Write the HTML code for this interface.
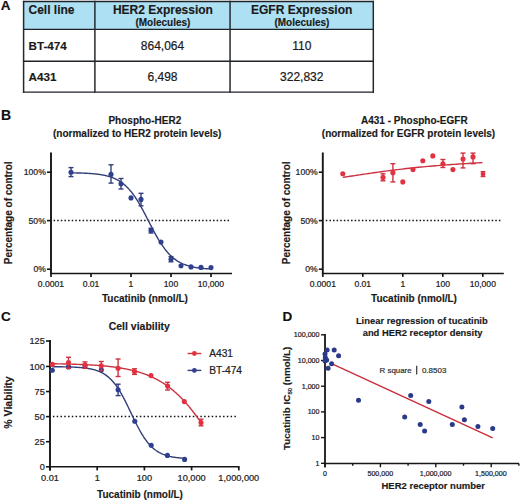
<!DOCTYPE html>
<html><head><meta charset="utf-8"><style>
html,body{margin:0;padding:0;background:#fff;}
body{width:520px;height:501px;overflow:hidden;}
svg{display:block;font-family:"Liberation Sans",sans-serif;}
</style></head><body>
<svg width="520" height="501" viewBox="0 0 520 501">
<rect width="520" height="501" fill="#fff"/>
<text x="0.8" y="10.4" font-size="13.5" font-weight="bold" text-anchor="start" fill="#111" stroke="#111" stroke-width="0.15" >A</text>
<rect x="23.6" y="1.5" width="349.7" height="27.9" fill="#aee0f4"/>
<line x1="22.9" y1="1.5" x2="374" y2="1.5" stroke="#1e2328" stroke-width="1.4" />
<line x1="22.9" y1="29.4" x2="374" y2="29.4" stroke="#1e2328" stroke-width="1.4" />
<line x1="22.9" y1="61.25" x2="374" y2="61.25" stroke="#1e2328" stroke-width="1.4" />
<line x1="22.9" y1="92.1" x2="374" y2="92.1" stroke="#1e2328" stroke-width="1.4" />
<line x1="23.6" y1="0.8" x2="23.6" y2="92.8" stroke="#26292c" stroke-width="1.5" />
<line x1="94.9" y1="0.8" x2="94.9" y2="92.8" stroke="#26292c" stroke-width="1.5" />
<line x1="230.05" y1="0.8" x2="230.05" y2="92.8" stroke="#26292c" stroke-width="1.5" />
<line x1="373.3" y1="0.8" x2="373.3" y2="92.8" stroke="#26292c" stroke-width="1.5" />
<text x="28.5" y="13.6" font-size="12" font-weight="bold" text-anchor="start" fill="#1a1a1a" stroke="#1a1a1a" stroke-width="0.15" >Cell line</text>
<text x="162.9" y="13.6" font-size="12" font-weight="bold" text-anchor="middle" fill="#1a1a1a" stroke="#1a1a1a" stroke-width="0.15" >HER2 Expression</text>
<text x="162.9" y="25.8" font-size="10" font-weight="bold" text-anchor="middle" fill="#1a1a1a" stroke="#1a1a1a" stroke-width="0.15" >(Molecules)</text>
<text x="301.7" y="13.6" font-size="12" font-weight="bold" text-anchor="middle" fill="#1a1a1a" stroke="#1a1a1a" stroke-width="0.15" >EGFR Expression</text>
<text x="301.9" y="25.8" font-size="10" font-weight="bold" text-anchor="middle" fill="#1a1a1a" stroke="#1a1a1a" stroke-width="0.15" >(Molecules)</text>
<text x="28.5" y="50" font-size="11.7" font-weight="bold" text-anchor="start" fill="#1a1a1a" stroke="#1a1a1a" stroke-width="0.15" >BT-474</text>
<text x="28.5" y="81" font-size="11.7" font-weight="bold" text-anchor="start" fill="#1a1a1a" stroke="#1a1a1a" stroke-width="0.15" >A431</text>
<text x="162.5" y="50" font-size="12" font-weight="normal" text-anchor="middle" fill="#1a1a1a" stroke="#1a1a1a" stroke-width="0.22" >864,064</text>
<text x="162.5" y="81" font-size="12" font-weight="normal" text-anchor="middle" fill="#1a1a1a" stroke="#1a1a1a" stroke-width="0.22" >6,498</text>
<text x="301.8" y="50" font-size="12" font-weight="normal" text-anchor="middle" fill="#1a1a1a" stroke="#1a1a1a" stroke-width="0.22" >110</text>
<text x="301.8" y="81" font-size="12" font-weight="normal" text-anchor="middle" fill="#1a1a1a" stroke="#1a1a1a" stroke-width="0.22" >322,832</text>
<text x="1.0" y="119.6" font-size="14" font-weight="bold" text-anchor="start" fill="#111" stroke="#111" stroke-width="0.15" >B</text>
<line x1="51" y1="152.5" x2="51" y2="274.09999999999997" stroke="#161616" stroke-width="1.9" />
<line x1="50.1" y1="273.4" x2="232" y2="273.4" stroke="#161616" stroke-width="1.5" />
<line x1="47" y1="172.2" x2="51" y2="172.2" stroke="#161616" stroke-width="1.6" />
<text x="45.8" y="175.29999999999998" font-size="8.6" font-weight="normal" text-anchor="end" fill="#222" stroke="#222" stroke-width="0.22" >100%</text>
<line x1="47" y1="220.6" x2="51" y2="220.6" stroke="#161616" stroke-width="1.6" />
<text x="45.8" y="223.7" font-size="8.6" font-weight="normal" text-anchor="end" fill="#222" stroke="#222" stroke-width="0.22" >50%</text>
<line x1="47" y1="269.2" x2="51" y2="269.2" stroke="#161616" stroke-width="1.6" />
<text x="45.8" y="272.3" font-size="8.6" font-weight="normal" text-anchor="end" fill="#222" stroke="#222" stroke-width="0.22" >0%</text>
<line x1="51" y1="273.4" x2="51" y2="276.9" stroke="#161616" stroke-width="1.7" />
<text x="51" y="287.3" font-size="8.6" font-weight="normal" text-anchor="middle" fill="#222" stroke="#222" stroke-width="0.22" >0.0001</text>
<line x1="91" y1="273.4" x2="91" y2="276.9" stroke="#161616" stroke-width="1.7" />
<text x="91" y="287.3" font-size="8.6" font-weight="normal" text-anchor="middle" fill="#222" stroke="#222" stroke-width="0.22" >0.01</text>
<line x1="131" y1="273.4" x2="131" y2="276.9" stroke="#161616" stroke-width="1.7" />
<text x="131" y="287.3" font-size="8.6" font-weight="normal" text-anchor="middle" fill="#222" stroke="#222" stroke-width="0.22" >1</text>
<line x1="171" y1="273.4" x2="171" y2="276.9" stroke="#161616" stroke-width="1.7" />
<text x="171" y="287.3" font-size="8.6" font-weight="normal" text-anchor="middle" fill="#222" stroke="#222" stroke-width="0.22" >100</text>
<line x1="211" y1="273.4" x2="211" y2="276.9" stroke="#161616" stroke-width="1.7" />
<text x="211" y="287.3" font-size="8.6" font-weight="normal" text-anchor="middle" fill="#222" stroke="#222" stroke-width="0.22" >10,000</text>
<line x1="53.6" y1="220.6" x2="229" y2="220.6" stroke="#111" stroke-width="1.5" stroke-dasharray="1.5 2.123"/>
<text x="12.1" y="212.75" font-size="10" font-weight="bold" text-anchor="middle" fill="#1a1a1a" stroke="#1a1a1a" stroke-width="0.15" transform="rotate(-90 12.1 212.75)">Percentage of control</text>
<text x="144.9" y="301.8" font-size="10" font-weight="bold" text-anchor="middle" fill="#1a1a1a" stroke="#1a1a1a" stroke-width="0.15" >Tucatinib (nmol/L)</text>
<text x="144.85" y="123.8" font-size="10" font-weight="bold" text-anchor="middle" fill="#1a1a1a" stroke="#1a1a1a" stroke-width="0.15" >Phospho-HER2</text>
<text x="137.2" y="137.2" font-size="10" font-weight="bold" text-anchor="middle" fill="#1a1a1a" stroke="#1a1a1a" stroke-width="0.15" >(normalized to HER2 protein levels)</text>
<line x1="322.8" y1="152.5" x2="322.8" y2="274.09999999999997" stroke="#161616" stroke-width="1.9" />
<line x1="321.90000000000003" y1="273.4" x2="503.8" y2="273.4" stroke="#161616" stroke-width="1.5" />
<line x1="318.8" y1="172.2" x2="322.8" y2="172.2" stroke="#161616" stroke-width="1.6" />
<text x="317.6" y="175.29999999999998" font-size="8.6" font-weight="normal" text-anchor="end" fill="#222" stroke="#222" stroke-width="0.22" >100%</text>
<line x1="318.8" y1="220.6" x2="322.8" y2="220.6" stroke="#161616" stroke-width="1.6" />
<text x="317.6" y="223.7" font-size="8.6" font-weight="normal" text-anchor="end" fill="#222" stroke="#222" stroke-width="0.22" >50%</text>
<line x1="318.8" y1="269.2" x2="322.8" y2="269.2" stroke="#161616" stroke-width="1.6" />
<text x="317.6" y="272.3" font-size="8.6" font-weight="normal" text-anchor="end" fill="#222" stroke="#222" stroke-width="0.22" >0%</text>
<line x1="322.8" y1="273.4" x2="322.8" y2="276.9" stroke="#161616" stroke-width="1.7" />
<text x="322.8" y="287.3" font-size="8.6" font-weight="normal" text-anchor="middle" fill="#222" stroke="#222" stroke-width="0.22" >0.0001</text>
<line x1="362.8" y1="273.4" x2="362.8" y2="276.9" stroke="#161616" stroke-width="1.7" />
<text x="362.8" y="287.3" font-size="8.6" font-weight="normal" text-anchor="middle" fill="#222" stroke="#222" stroke-width="0.22" >0.01</text>
<line x1="402.8" y1="273.4" x2="402.8" y2="276.9" stroke="#161616" stroke-width="1.7" />
<text x="402.8" y="287.3" font-size="8.6" font-weight="normal" text-anchor="middle" fill="#222" stroke="#222" stroke-width="0.22" >1</text>
<line x1="442.8" y1="273.4" x2="442.8" y2="276.9" stroke="#161616" stroke-width="1.7" />
<text x="442.8" y="287.3" font-size="8.6" font-weight="normal" text-anchor="middle" fill="#222" stroke="#222" stroke-width="0.22" >100</text>
<line x1="482.8" y1="273.4" x2="482.8" y2="276.9" stroke="#161616" stroke-width="1.7" />
<text x="482.8" y="287.3" font-size="8.6" font-weight="normal" text-anchor="middle" fill="#222" stroke="#222" stroke-width="0.22" >10,000</text>
<line x1="325.8" y1="220.6" x2="500.5" y2="220.6" stroke="#111" stroke-width="1.5" stroke-dasharray="1.5 2.106"/>
<text x="290.2" y="212.75" font-size="10" font-weight="bold" text-anchor="middle" fill="#1a1a1a" stroke="#1a1a1a" stroke-width="0.15" transform="rotate(-90 290.2 212.75)">Percentage of control</text>
<text x="414" y="301.8" font-size="10" font-weight="bold" text-anchor="middle" fill="#1a1a1a" stroke="#1a1a1a" stroke-width="0.15" >Tucatinib (nmol/L)</text>
<text x="414.3" y="123.8" font-size="10" font-weight="bold" text-anchor="middle" fill="#1a1a1a" stroke="#1a1a1a" stroke-width="0.15" >A431 - Phospho-EGFR</text>
<text x="408.5" y="137.2" font-size="10" font-weight="bold" text-anchor="middle" fill="#1a1a1a" stroke="#1a1a1a" stroke-width="0.15" >(normalized for EGFR protein levels)</text>
<path d="M71.00,172.82 L71.70,172.83 L72.41,172.85 L73.11,172.86 L73.81,172.87 L74.52,172.88 L75.22,172.90 L75.92,172.91 L76.63,172.93 L77.33,172.95 L78.04,172.96 L78.74,172.98 L79.44,173.00 L80.15,173.03 L80.85,173.05 L81.55,173.07 L82.26,173.10 L82.96,173.12 L83.66,173.15 L84.37,173.18 L85.07,173.21 L85.77,173.25 L86.48,173.28 L87.18,173.32 L87.88,173.36 L88.59,173.40 L89.29,173.44 L89.99,173.49 L90.70,173.54 L91.40,173.59 L92.11,173.65 L92.81,173.71 L93.51,173.77 L94.22,173.83 L94.92,173.90 L95.62,173.98 L96.33,174.05 L97.03,174.13 L97.73,174.22 L98.44,174.31 L99.14,174.41 L99.84,174.51 L100.55,174.61 L101.25,174.73 L101.95,174.85 L102.66,174.97 L103.36,175.10 L104.07,175.24 L104.77,175.39 L105.47,175.55 L106.18,175.71 L106.88,175.89 L107.58,176.07 L108.29,176.26 L108.99,176.46 L109.69,176.68 L110.40,176.90 L111.10,177.14 L111.80,177.39 L112.51,177.65 L113.21,177.93 L113.91,178.22 L114.62,178.53 L115.32,178.85 L116.03,179.19 L116.73,179.54 L117.43,179.91 L118.14,180.31 L118.84,180.72 L119.54,181.15 L120.25,181.60 L120.95,182.07 L121.65,182.56 L122.36,183.08 L123.06,183.62 L123.76,184.18 L124.47,184.77 L125.17,185.39 L125.87,186.03 L126.58,186.70 L127.28,187.39 L127.98,188.11 L128.69,188.87 L129.39,189.65 L130.10,190.46 L130.80,191.30 L131.50,192.17 L132.21,193.06 L132.91,193.99 L133.61,194.95 L134.32,195.94 L135.02,196.96 L135.72,198.01 L136.43,199.08 L137.13,200.19 L137.83,201.32 L138.54,202.48 L139.24,203.66 L139.94,204.87 L140.65,206.10 L141.35,207.36 L142.06,208.63 L142.76,209.92 L143.46,211.23 L144.17,212.56 L144.87,213.90 L145.57,215.24 L146.28,216.60 L146.98,217.97 L147.68,219.34 L148.39,220.71 L149.09,222.09 L149.79,223.46 L150.50,224.83 L151.20,226.19 L151.90,227.55 L152.61,228.90 L153.31,230.23 L154.02,231.55 L154.72,232.85 L155.42,234.14 L156.13,235.40 L156.83,236.65 L157.53,237.87 L158.24,239.07 L158.94,240.24 L159.64,241.39 L160.35,242.51 L161.05,243.60 L161.75,244.67 L162.46,245.71 L163.16,246.71 L163.86,247.69 L164.57,248.64 L165.27,249.56 L165.97,250.44 L166.68,251.30 L167.38,252.13 L168.09,252.93 L168.79,253.70 L169.49,254.44 L170.20,255.15 L170.90,255.83 L171.60,256.49 L172.31,257.12 L173.01,257.73 L173.71,258.30 L174.42,258.86 L175.12,259.39 L175.82,259.90 L176.53,260.38 L177.23,260.85 L177.93,261.29 L178.64,261.71 L179.34,262.11 L180.05,262.50 L180.75,262.86 L181.45,263.21 L182.16,263.54 L182.86,263.86 L183.56,264.16 L184.27,264.44 L184.97,264.71 L185.67,264.97 L186.38,265.22 L187.08,265.45 L187.78,265.67 L188.49,265.88 L189.19,266.08 L189.89,266.27 L190.60,266.45 L191.30,266.62 L192.01,266.78 L192.71,266.93 L193.41,267.07 L194.12,267.21 L194.82,267.34 L195.52,267.46 L196.23,267.58 L196.93,267.69 L197.63,267.80 L198.34,267.89 L199.04,267.99 L199.74,268.08 L200.45,268.16 L201.15,268.24 L201.85,268.32 L202.56,268.39 L203.26,268.45 L203.96,268.52 L204.67,268.58 L205.37,268.64 L206.08,268.69 L206.78,268.74 L207.48,268.79 L208.19,268.83 L208.89,268.88 L209.59,268.92 L210.30,268.96 L211.00,268.99" fill="none" stroke="#333f7a" stroke-width="1.4" stroke-linejoin="round"/>
<line x1="71" y1="167.6" x2="71" y2="176.6" stroke="#333f7a" stroke-width="1.4" />
<line x1="68.5" y1="167.6" x2="73.5" y2="167.6" stroke="#333f7a" stroke-width="1.4" />
<line x1="68.5" y1="176.6" x2="73.5" y2="176.6" stroke="#333f7a" stroke-width="1.4" />
<circle cx="71" cy="172.3" r="2.55" fill="#2f408e"/>
<line x1="111" y1="164.8" x2="111" y2="183.1" stroke="#333f7a" stroke-width="1.4" />
<line x1="108.5" y1="164.8" x2="113.5" y2="164.8" stroke="#333f7a" stroke-width="1.4" />
<line x1="108.5" y1="183.1" x2="113.5" y2="183.1" stroke="#333f7a" stroke-width="1.4" />
<circle cx="111" cy="174.4" r="2.55" fill="#2f408e"/>
<line x1="121.0" y1="178.5" x2="121.0" y2="189" stroke="#333f7a" stroke-width="1.4" />
<line x1="118.5" y1="178.5" x2="123.5" y2="178.5" stroke="#333f7a" stroke-width="1.4" />
<line x1="118.5" y1="189" x2="123.5" y2="189" stroke="#333f7a" stroke-width="1.4" />
<circle cx="121.0" cy="183.7" r="2.55" fill="#2f408e"/>
<circle cx="131" cy="197.9" r="2.55" fill="#2f408e"/>
<line x1="141.0" y1="193.3" x2="141.0" y2="205.8" stroke="#333f7a" stroke-width="1.4" />
<line x1="138.5" y1="193.3" x2="143.5" y2="193.3" stroke="#333f7a" stroke-width="1.4" />
<line x1="138.5" y1="205.8" x2="143.5" y2="205.8" stroke="#333f7a" stroke-width="1.4" />
<circle cx="141.0" cy="199.4" r="2.55" fill="#2f408e"/>
<line x1="151" y1="228.3" x2="151" y2="233" stroke="#333f7a" stroke-width="1.4" />
<line x1="148.5" y1="228.3" x2="153.5" y2="228.3" stroke="#333f7a" stroke-width="1.4" />
<line x1="148.5" y1="233" x2="153.5" y2="233" stroke="#333f7a" stroke-width="1.4" />
<circle cx="151" cy="230.4" r="2.55" fill="#2f408e"/>
<circle cx="161.0" cy="242.1" r="2.55" fill="#2f408e"/>
<line x1="171" y1="256.6" x2="171" y2="261.8" stroke="#333f7a" stroke-width="1.4" />
<line x1="168.5" y1="256.6" x2="173.5" y2="256.6" stroke="#333f7a" stroke-width="1.4" />
<line x1="168.5" y1="261.8" x2="173.5" y2="261.8" stroke="#333f7a" stroke-width="1.4" />
<circle cx="171" cy="259.2" r="2.55" fill="#2f408e"/>
<circle cx="181.0" cy="265.8" r="2.55" fill="#2f408e"/>
<circle cx="191" cy="266.9" r="2.55" fill="#2f408e"/>
<circle cx="201.0" cy="267.4" r="2.55" fill="#2f408e"/>
<circle cx="211" cy="267.6" r="2.55" fill="#2f408e"/>
<path d="M342.80,177.40 L345.17,177.04 L347.54,176.68 L349.90,176.31 L352.27,175.95 L354.64,175.59 L357.01,175.24 L359.37,174.88 L361.74,174.53 L364.11,174.17 L366.48,173.83 L368.85,173.48 L371.21,173.14 L373.58,172.80 L375.95,172.46 L378.32,172.13 L380.68,171.81 L383.05,171.48 L385.42,171.17 L387.79,170.85 L390.16,170.55 L392.52,170.24 L394.89,169.95 L397.26,169.66 L399.63,169.37 L401.99,169.09 L404.36,168.81 L406.73,168.55 L409.10,168.28 L411.47,168.03 L413.83,167.78 L416.20,167.53 L418.57,167.29 L420.94,167.06 L423.31,166.83 L425.67,166.61 L428.04,166.39 L430.41,166.18 L432.78,165.98 L435.14,165.78 L437.51,165.59 L439.88,165.40 L442.25,165.21 L444.62,165.03 L446.98,164.86 L449.35,164.69 L451.72,164.52 L454.09,164.36 L456.45,164.20 L458.82,164.04 L461.19,163.89 L463.56,163.74 L465.93,163.59 L468.29,163.45 L470.66,163.30 L473.03,163.16 L475.40,163.02 L477.76,162.88 L480.13,162.74 L482.50,162.60" fill="none" stroke="#cc3340" stroke-width="1.4" stroke-linejoin="round"/>
<circle cx="342.8" cy="173.8" r="2.55" fill="#e2313f"/>
<line x1="383" y1="173.8" x2="383" y2="180.8" stroke="#cc3340" stroke-width="1.4" />
<line x1="380.5" y1="173.8" x2="385.5" y2="173.8" stroke="#cc3340" stroke-width="1.4" />
<line x1="380.5" y1="180.8" x2="385.5" y2="180.8" stroke="#cc3340" stroke-width="1.4" />
<circle cx="383" cy="177.4" r="2.55" fill="#e2313f"/>
<line x1="392.9" y1="163.7" x2="392.9" y2="181.9" stroke="#cc3340" stroke-width="1.4" />
<line x1="390.4" y1="163.7" x2="395.4" y2="163.7" stroke="#cc3340" stroke-width="1.4" />
<line x1="390.4" y1="181.9" x2="395.4" y2="181.9" stroke="#cc3340" stroke-width="1.4" />
<circle cx="392.9" cy="172.8" r="2.55" fill="#e2313f"/>
<circle cx="402.8" cy="181.9" r="2.55" fill="#e2313f"/>
<circle cx="413" cy="169.6" r="2.55" fill="#e2313f"/>
<circle cx="422.8" cy="160.7" r="2.55" fill="#e2313f"/>
<circle cx="432.8" cy="155.9" r="2.55" fill="#e2313f"/>
<line x1="442.9" y1="159.5" x2="442.9" y2="167.5" stroke="#cc3340" stroke-width="1.4" />
<line x1="440.4" y1="159.5" x2="445.4" y2="159.5" stroke="#cc3340" stroke-width="1.4" />
<line x1="440.4" y1="167.5" x2="445.4" y2="167.5" stroke="#cc3340" stroke-width="1.4" />
<circle cx="442.9" cy="163.7" r="2.55" fill="#e2313f"/>
<circle cx="452.9" cy="169.6" r="2.55" fill="#e2313f"/>
<line x1="463" y1="153.1" x2="463" y2="167.9" stroke="#cc3340" stroke-width="1.4" />
<line x1="460.5" y1="153.1" x2="465.5" y2="153.1" stroke="#cc3340" stroke-width="1.4" />
<line x1="460.5" y1="167.9" x2="465.5" y2="167.9" stroke="#cc3340" stroke-width="1.4" />
<circle cx="463" cy="159" r="2.55" fill="#e2313f"/>
<line x1="473" y1="153.1" x2="473" y2="163.7" stroke="#cc3340" stroke-width="1.4" />
<line x1="470.5" y1="153.1" x2="475.5" y2="153.1" stroke="#cc3340" stroke-width="1.4" />
<line x1="470.5" y1="163.7" x2="475.5" y2="163.7" stroke="#cc3340" stroke-width="1.4" />
<circle cx="473" cy="156.9" r="2.55" fill="#e2313f"/>
<line x1="483" y1="171.7" x2="483" y2="176.5" stroke="#cc3340" stroke-width="1.4" />
<line x1="480.6" y1="171.7" x2="485.4" y2="171.7" stroke="#cc3340" stroke-width="1.4" />
<line x1="480.6" y1="176.5" x2="485.4" y2="176.5" stroke="#cc3340" stroke-width="1.4" />
<circle cx="483" cy="174.1" r="2.4" fill="#e2313f"/>
<text x="0.9" y="320.7" font-size="13.5" font-weight="bold" text-anchor="start" fill="#111" stroke="#111" stroke-width="0.15" >C</text>
<text x="139.3" y="330.0" font-size="10.5" font-weight="bold" text-anchor="middle" fill="#1a1a1a" stroke="#1a1a1a" stroke-width="0.15" >Cell viability</text>
<line x1="50" y1="340" x2="50" y2="470.40000000000003" stroke="#161616" stroke-width="1.9" />
<line x1="49.1" y1="466.8" x2="239.6" y2="466.8" stroke="#161616" stroke-width="1.6" />
<line x1="46" y1="466.8" x2="50" y2="466.8" stroke="#161616" stroke-width="1.6" />
<text x="44.8" y="470.1" font-size="9.2" font-weight="normal" text-anchor="end" fill="#222" stroke="#222" stroke-width="0.22" >0</text>
<line x1="46" y1="441.71250000000003" x2="50" y2="441.71250000000003" stroke="#161616" stroke-width="1.6" />
<text x="44.8" y="445.01250000000005" font-size="9.2" font-weight="normal" text-anchor="end" fill="#222" stroke="#222" stroke-width="0.22" >25</text>
<line x1="46" y1="416.625" x2="50" y2="416.625" stroke="#161616" stroke-width="1.6" />
<text x="44.8" y="419.925" font-size="9.2" font-weight="normal" text-anchor="end" fill="#222" stroke="#222" stroke-width="0.22" >50</text>
<line x1="46" y1="391.5375" x2="50" y2="391.5375" stroke="#161616" stroke-width="1.6" />
<text x="44.8" y="394.83750000000003" font-size="9.2" font-weight="normal" text-anchor="end" fill="#222" stroke="#222" stroke-width="0.22" >75</text>
<line x1="46" y1="366.45" x2="50" y2="366.45" stroke="#161616" stroke-width="1.6" />
<text x="44.8" y="369.75" font-size="9.2" font-weight="normal" text-anchor="end" fill="#222" stroke="#222" stroke-width="0.22" >100</text>
<line x1="46" y1="341" x2="50" y2="341" stroke="#161616" stroke-width="1.6" />
<text x="44.8" y="344.3" font-size="9.2" font-weight="normal" text-anchor="end" fill="#222" stroke="#222" stroke-width="0.22" >125</text>
<line x1="50.0" y1="466.8" x2="50.0" y2="470.40000000000003" stroke="#161616" stroke-width="1.7" />
<text x="50.0" y="481.3" font-size="9.2" font-weight="normal" text-anchor="middle" fill="#222" stroke="#222" stroke-width="0.22" >0.01</text>
<line x1="97.2" y1="466.8" x2="97.2" y2="470.40000000000003" stroke="#161616" stroke-width="1.7" />
<text x="97.2" y="481.3" font-size="9.2" font-weight="normal" text-anchor="middle" fill="#222" stroke="#222" stroke-width="0.22" >1</text>
<line x1="144.4" y1="466.8" x2="144.4" y2="470.40000000000003" stroke="#161616" stroke-width="1.7" />
<text x="144.4" y="481.3" font-size="9.2" font-weight="normal" text-anchor="middle" fill="#222" stroke="#222" stroke-width="0.22" >100</text>
<line x1="191.60000000000002" y1="466.8" x2="191.60000000000002" y2="470.40000000000003" stroke="#161616" stroke-width="1.7" />
<text x="191.60000000000002" y="481.3" font-size="9.2" font-weight="normal" text-anchor="middle" fill="#222" stroke="#222" stroke-width="0.22" >10,000</text>
<line x1="238.8" y1="466.8" x2="238.8" y2="470.40000000000003" stroke="#161616" stroke-width="1.7" />
<text x="238.8" y="481.3" font-size="9.2" font-weight="normal" text-anchor="middle" fill="#222" stroke="#222" stroke-width="0.22" >1,000,000</text>
<line x1="52.9" y1="416.5" x2="236" y2="416.5" stroke="#111" stroke-width="1.5" stroke-dasharray="1.5 2.281"/>
<text x="11.5" y="402.5" font-size="10.5" font-weight="bold" text-anchor="middle" fill="#1a1a1a" stroke="#1a1a1a" stroke-width="0.15" transform="rotate(-90 11.5 402.5)">% Viability</text>
<text x="140" y="497.9" font-size="10" font-weight="bold" text-anchor="middle" fill="#1a1a1a" stroke="#1a1a1a" stroke-width="0.15" >Tucatinib (nmol/L)</text>
<path d="M52.30,363.75 L53.05,363.76 L53.79,363.77 L54.54,363.79 L55.29,363.80 L56.04,363.81 L56.78,363.82 L57.53,363.84 L58.28,363.85 L59.03,363.86 L59.77,363.88 L60.52,363.89 L61.27,363.91 L62.01,363.92 L62.76,363.94 L63.51,363.95 L64.26,363.97 L65.00,363.99 L65.75,364.00 L66.50,364.02 L67.24,364.04 L67.99,364.06 L68.74,364.08 L69.49,364.10 L70.23,364.12 L70.98,364.14 L71.73,364.16 L72.48,364.18 L73.22,364.21 L73.97,364.23 L74.72,364.25 L75.46,364.28 L76.21,364.30 L76.96,364.33 L77.71,364.36 L78.45,364.38 L79.20,364.41 L79.95,364.44 L80.69,364.47 L81.44,364.50 L82.19,364.53 L82.94,364.56 L83.68,364.60 L84.43,364.63 L85.18,364.67 L85.93,364.70 L86.67,364.74 L87.42,364.78 L88.17,364.81 L88.91,364.85 L89.66,364.89 L90.41,364.94 L91.16,364.98 L91.90,365.02 L92.65,365.07 L93.40,365.12 L94.15,365.16 L94.89,365.21 L95.64,365.26 L96.39,365.31 L97.13,365.37 L97.88,365.42 L98.63,365.48 L99.38,365.54 L100.12,365.60 L100.87,365.66 L101.62,365.72 L102.36,365.78 L103.11,365.85 L103.86,365.92 L104.61,365.98 L105.35,366.06 L106.10,366.13 L106.85,366.20 L107.60,366.28 L108.34,366.36 L109.09,366.44 L109.84,366.52 L110.58,366.61 L111.33,366.70 L112.08,366.78 L112.83,366.88 L113.57,366.97 L114.32,367.07 L115.07,367.17 L115.82,367.27 L116.56,367.38 L117.31,367.48 L118.06,367.59 L118.80,367.71 L119.55,367.82 L120.30,367.94 L121.05,368.06 L121.79,368.19 L122.54,368.32 L123.29,368.45 L124.03,368.59 L124.78,368.73 L125.53,368.87 L126.28,369.01 L127.02,369.16 L127.77,369.32 L128.52,369.48 L129.27,369.64 L130.01,369.80 L130.76,369.97 L131.51,370.15 L132.25,370.33 L133.00,370.51 L133.75,370.70 L134.50,370.89 L135.24,371.09 L135.99,371.29 L136.74,371.50 L137.48,371.71 L138.23,371.93 L138.98,372.15 L139.73,372.38 L140.47,372.62 L141.22,372.86 L141.97,373.10 L142.72,373.36 L143.46,373.61 L144.21,373.88 L144.96,374.15 L145.70,374.43 L146.45,374.71 L147.20,375.00 L147.95,375.30 L148.69,375.61 L149.44,375.92 L150.19,376.24 L150.94,376.57 L151.68,376.90 L152.43,377.24 L153.18,377.60 L153.92,377.95 L154.67,378.32 L155.42,378.70 L156.17,379.08 L156.91,379.47 L157.66,379.88 L158.41,380.29 L159.15,380.71 L159.90,381.14 L160.65,381.58 L161.40,382.02 L162.14,382.48 L162.89,382.95 L163.64,383.43 L164.39,383.92 L165.13,384.42 L165.88,384.93 L166.63,385.45 L167.37,385.98 L168.12,386.52 L168.87,387.07 L169.62,387.64 L170.36,388.21 L171.11,388.80 L171.86,389.40 L172.61,390.01 L173.35,390.63 L174.10,391.27 L174.85,391.92 L175.59,392.57 L176.34,393.25 L177.09,393.93 L177.84,394.63 L178.58,395.34 L179.33,396.06 L180.08,396.79 L180.82,397.54 L181.57,398.30 L182.32,399.07 L183.07,399.86 L183.81,400.66 L184.56,401.47 L185.31,402.30 L186.06,403.14 L186.80,403.99 L187.55,404.86 L188.30,405.73 L189.04,406.63 L189.79,407.53 L190.54,408.45 L191.29,409.38 L192.03,410.32 L192.78,411.28 L193.53,412.25 L194.27,413.23 L195.02,414.22 L195.77,415.23 L196.52,416.25 L197.26,417.28 L198.01,418.32 L198.76,419.38 L199.51,420.44 L200.25,421.52 L201.00,422.61" fill="none" stroke="#cc3340" stroke-width="1.4" stroke-linejoin="round"/>
<path d="M52.30,366.71 L52.96,366.72 L53.63,366.72 L54.29,366.73 L54.96,366.73 L55.62,366.74 L56.29,366.74 L56.95,366.75 L57.62,366.75 L58.28,366.76 L58.95,366.77 L59.61,366.78 L60.28,366.79 L60.94,366.80 L61.61,366.80 L62.27,366.82 L62.94,366.83 L63.60,366.84 L64.27,366.85 L64.93,366.86 L65.60,366.88 L66.26,366.89 L66.93,366.91 L67.59,366.92 L68.26,366.94 L68.92,366.96 L69.59,366.98 L70.25,367.00 L70.92,367.02 L71.58,367.05 L72.24,367.07 L72.91,367.10 L73.57,367.13 L74.24,367.16 L74.90,367.19 L75.57,367.23 L76.23,367.26 L76.90,367.30 L77.56,367.34 L78.23,367.39 L78.89,367.43 L79.56,367.48 L80.22,367.53 L80.89,367.59 L81.55,367.65 L82.22,367.71 L82.88,367.77 L83.55,367.84 L84.21,367.92 L84.88,368.00 L85.54,368.08 L86.21,368.17 L86.87,368.26 L87.54,368.36 L88.20,368.47 L88.87,368.58 L89.53,368.70 L90.19,368.82 L90.86,368.96 L91.52,369.10 L92.19,369.25 L92.85,369.41 L93.52,369.57 L94.18,369.75 L94.85,369.94 L95.51,370.14 L96.18,370.35 L96.84,370.57 L97.51,370.81 L98.17,371.05 L98.84,371.32 L99.50,371.59 L100.17,371.88 L100.83,372.19 L101.50,372.52 L102.16,372.86 L102.83,373.22 L103.49,373.60 L104.16,374.00 L104.82,374.43 L105.49,374.87 L106.15,375.34 L106.82,375.83 L107.48,376.34 L108.15,376.88 L108.81,377.45 L109.47,378.04 L110.14,378.66 L110.80,379.31 L111.47,379.98 L112.13,380.69 L112.80,381.43 L113.46,382.20 L114.13,383.00 L114.79,383.83 L115.46,384.70 L116.12,385.60 L116.79,386.53 L117.45,387.49 L118.12,388.49 L118.78,389.52 L119.45,390.58 L120.11,391.67 L120.78,392.79 L121.44,393.94 L122.11,395.12 L122.77,396.33 L123.44,397.57 L124.10,398.83 L124.77,400.11 L125.43,401.42 L126.10,402.74 L126.76,404.09 L127.43,405.44 L128.09,406.82 L128.75,408.20 L129.42,409.59 L130.08,410.99 L130.75,412.39 L131.41,413.79 L132.08,415.19 L132.74,416.58 L133.41,417.97 L134.07,419.35 L134.74,420.71 L135.40,422.07 L136.07,423.40 L136.73,424.72 L137.40,426.02 L138.06,427.29 L138.73,428.54 L139.39,429.77 L140.06,430.97 L140.72,432.14 L141.39,433.28 L142.05,434.39 L142.72,435.47 L143.38,436.52 L144.05,437.53 L144.71,438.51 L145.38,439.47 L146.04,440.38 L146.71,441.27 L147.37,442.12 L148.03,442.94 L148.70,443.73 L149.36,444.49 L150.03,445.21 L150.69,445.91 L151.36,446.58 L152.02,447.21 L152.69,447.82 L153.35,448.41 L154.02,448.96 L154.68,449.49 L155.35,450.00 L156.01,450.48 L156.68,450.93 L157.34,451.37 L158.01,451.78 L158.67,452.17 L159.34,452.55 L160.00,452.90 L160.67,453.24 L161.33,453.56 L162.00,453.86 L162.66,454.14 L163.33,454.42 L163.99,454.67 L164.66,454.91 L165.32,455.14 L165.98,455.36 L166.65,455.57 L167.31,455.76 L167.98,455.95 L168.64,456.12 L169.31,456.28 L169.97,456.44 L170.64,456.58 L171.30,456.72 L171.97,456.85 L172.63,456.97 L173.30,457.09 L173.96,457.20 L174.63,457.30 L175.29,457.40 L175.96,457.49 L176.62,457.58 L177.29,457.66 L177.95,457.74 L178.62,457.81 L179.28,457.88 L179.95,457.94 L180.61,458.00 L181.28,458.06 L181.94,458.12 L182.61,458.17 L183.27,458.21 L183.94,458.26 L184.60,458.30" fill="none" stroke="#333f7a" stroke-width="1.4" stroke-linejoin="round"/>
<circle cx="52.3" cy="370.2" r="2.55" fill="#2f408e"/>
<circle cx="68.5" cy="366.9" r="2.55" fill="#2f408e"/>
<circle cx="85" cy="366" r="2.55" fill="#2f408e"/>
<circle cx="101.3" cy="369.8" r="2.55" fill="#2f408e"/>
<line x1="118.1" y1="384.2" x2="118.1" y2="395.6" stroke="#333f7a" stroke-width="1.4" />
<line x1="115.6" y1="384.2" x2="120.6" y2="384.2" stroke="#333f7a" stroke-width="1.4" />
<line x1="115.6" y1="395.6" x2="120.6" y2="395.6" stroke="#333f7a" stroke-width="1.4" />
<circle cx="118.1" cy="389.8" r="2.55" fill="#2f408e"/>
<circle cx="134.8" cy="421.2" r="2.55" fill="#2f408e"/>
<circle cx="151.2" cy="445.2" r="2.55" fill="#2f408e"/>
<circle cx="167.4" cy="455.4" r="2.55" fill="#2f408e"/>
<circle cx="184.6" cy="459.4" r="2.55" fill="#2f408e"/>
<circle cx="52.3" cy="364.4" r="2.55" fill="#e2313f"/>
<line x1="68.5" y1="357.3" x2="68.5" y2="368.3" stroke="#cc3340" stroke-width="1.4" />
<line x1="66.0" y1="357.3" x2="71.0" y2="357.3" stroke="#cc3340" stroke-width="1.4" />
<line x1="66.0" y1="368.3" x2="71.0" y2="368.3" stroke="#cc3340" stroke-width="1.4" />
<circle cx="68.5" cy="362.5" r="2.55" fill="#e2313f"/>
<line x1="85" y1="361.9" x2="85" y2="368.3" stroke="#cc3340" stroke-width="1.4" />
<line x1="82.5" y1="361.9" x2="87.5" y2="361.9" stroke="#cc3340" stroke-width="1.4" />
<line x1="82.5" y1="368.3" x2="87.5" y2="368.3" stroke="#cc3340" stroke-width="1.4" />
<circle cx="85" cy="365" r="2.55" fill="#e2313f"/>
<line x1="101.3" y1="361.5" x2="101.3" y2="370.6" stroke="#cc3340" stroke-width="1.4" />
<line x1="98.8" y1="361.5" x2="103.8" y2="361.5" stroke="#cc3340" stroke-width="1.4" />
<line x1="98.8" y1="370.6" x2="103.8" y2="370.6" stroke="#cc3340" stroke-width="1.4" />
<circle cx="101.3" cy="365.8" r="2.55" fill="#e2313f"/>
<line x1="118.1" y1="359" x2="118.1" y2="376.5" stroke="#cc3340" stroke-width="1.4" />
<line x1="115.6" y1="359" x2="120.6" y2="359" stroke="#cc3340" stroke-width="1.4" />
<line x1="115.6" y1="376.5" x2="120.6" y2="376.5" stroke="#cc3340" stroke-width="1.4" />
<circle cx="118.1" cy="368.3" r="2.55" fill="#e2313f"/>
<line x1="134.5" y1="368.8" x2="134.5" y2="374.4" stroke="#cc3340" stroke-width="1.4" />
<line x1="132.0" y1="368.8" x2="137.0" y2="368.8" stroke="#cc3340" stroke-width="1.4" />
<line x1="132.0" y1="374.4" x2="137.0" y2="374.4" stroke="#cc3340" stroke-width="1.4" />
<circle cx="134.5" cy="371.5" r="2.55" fill="#e2313f"/>
<circle cx="151" cy="375.6" r="2.55" fill="#e2313f"/>
<line x1="167.6" y1="382.3" x2="167.6" y2="390" stroke="#cc3340" stroke-width="1.4" />
<line x1="165.1" y1="382.3" x2="170.1" y2="382.3" stroke="#cc3340" stroke-width="1.4" />
<line x1="165.1" y1="390" x2="170.1" y2="390" stroke="#cc3340" stroke-width="1.4" />
<circle cx="167.6" cy="386" r="2.55" fill="#e2313f"/>
<circle cx="184.3" cy="401.6" r="2.55" fill="#e2313f"/>
<line x1="201" y1="419.2" x2="201" y2="425.8" stroke="#cc3340" stroke-width="1.4" />
<line x1="198.5" y1="419.2" x2="203.5" y2="419.2" stroke="#cc3340" stroke-width="1.4" />
<line x1="198.5" y1="425.8" x2="203.5" y2="425.8" stroke="#cc3340" stroke-width="1.4" />
<circle cx="201" cy="422.5" r="2.55" fill="#e2313f"/>
<line x1="187.6" y1="353.5" x2="201.3" y2="353.5" stroke="#cc3340" stroke-width="1.4" />
<circle cx="194.4" cy="353.5" r="2.4" fill="#e2313f"/>
<line x1="187.6" y1="370.4" x2="201.3" y2="370.4" stroke="#333f7a" stroke-width="1.4" />
<circle cx="194.4" cy="370.4" r="2.4" fill="#2f408e"/>
<text x="209.2" y="356.8" font-size="10.2" font-weight="normal" text-anchor="start" fill="#222" stroke="#222" stroke-width="0.22" >A431</text>
<text x="209.2" y="373.7" font-size="10.2" font-weight="normal" text-anchor="start" fill="#222" stroke="#222" stroke-width="0.22" >BT-474</text>
<text x="282.4" y="320.9" font-size="13.5" font-weight="bold" text-anchor="start" fill="#111" stroke="#111" stroke-width="0.15" >D</text>
<text x="421.8" y="324.0" font-size="9.4" font-weight="bold" text-anchor="middle" fill="#1a1a1a" stroke="#1a1a1a" stroke-width="0.15" >Linear regression of tucatinib</text>
<text x="422.6" y="335.7" font-size="9.4" font-weight="bold" text-anchor="middle" fill="#1a1a1a" stroke="#1a1a1a" stroke-width="0.15" >and HER2 receptor density</text>
<line x1="325" y1="334" x2="325" y2="467.3" stroke="#161616" stroke-width="1.8" />
<line x1="324.1" y1="463.5" x2="519" y2="463.5" stroke="#161616" stroke-width="1.5" />
<line x1="321" y1="463.3" x2="325" y2="463.3" stroke="#161616" stroke-width="1.4" />
<text x="319.5" y="465.8" font-size="7.1" font-weight="normal" text-anchor="end" fill="#222" stroke="#222" stroke-width="0.22" >1</text>
<line x1="321" y1="437.6" x2="325" y2="437.6" stroke="#161616" stroke-width="1.4" />
<text x="319.5" y="440.1" font-size="7.1" font-weight="normal" text-anchor="end" fill="#222" stroke="#222" stroke-width="0.22" >10</text>
<line x1="321" y1="411.90000000000003" x2="325" y2="411.90000000000003" stroke="#161616" stroke-width="1.4" />
<text x="319.5" y="414.40000000000003" font-size="7.1" font-weight="normal" text-anchor="end" fill="#222" stroke="#222" stroke-width="0.22" >100</text>
<line x1="321" y1="386.20000000000005" x2="325" y2="386.20000000000005" stroke="#161616" stroke-width="1.4" />
<text x="319.5" y="388.70000000000005" font-size="7.1" font-weight="normal" text-anchor="end" fill="#222" stroke="#222" stroke-width="0.22" >1,000</text>
<line x1="321" y1="360.5" x2="325" y2="360.5" stroke="#161616" stroke-width="1.4" />
<text x="319.5" y="363.0" font-size="7.1" font-weight="normal" text-anchor="end" fill="#222" stroke="#222" stroke-width="0.22" >10,000</text>
<line x1="321" y1="334.8" x2="325" y2="334.8" stroke="#161616" stroke-width="1.4" />
<text x="319.5" y="337.3" font-size="7.1" font-weight="normal" text-anchor="end" fill="#222" stroke="#222" stroke-width="0.22" >100,000</text>
<line x1="325.0" y1="463.5" x2="325.0" y2="467.3" stroke="#161616" stroke-width="1.4" />
<line x1="352.7" y1="463.5" x2="352.7" y2="465.7" stroke="#161616" stroke-width="1.4" />
<line x1="380.4" y1="463.5" x2="380.4" y2="467.3" stroke="#161616" stroke-width="1.4" />
<line x1="408.1" y1="463.5" x2="408.1" y2="465.7" stroke="#161616" stroke-width="1.4" />
<line x1="435.8" y1="463.5" x2="435.8" y2="467.3" stroke="#161616" stroke-width="1.4" />
<line x1="463.5" y1="463.5" x2="463.5" y2="465.7" stroke="#161616" stroke-width="1.4" />
<line x1="491.2" y1="463.5" x2="491.2" y2="467.3" stroke="#161616" stroke-width="1.4" />
<line x1="518.9" y1="463.5" x2="518.9" y2="465.7" stroke="#161616" stroke-width="1.4" />
<text x="325.0" y="476.3" font-size="7.1" font-weight="normal" text-anchor="middle" fill="#222" stroke="#222" stroke-width="0.22" >0</text>
<text x="380.3" y="476.3" font-size="7.1" font-weight="normal" text-anchor="middle" fill="#222" stroke="#222" stroke-width="0.22" >500,000</text>
<text x="435.6" y="476.3" font-size="7.1" font-weight="normal" text-anchor="middle" fill="#222" stroke="#222" stroke-width="0.22" >1,000,000</text>
<text x="490.9" y="476.3" font-size="7.1" font-weight="normal" text-anchor="middle" fill="#222" stroke="#222" stroke-width="0.22" >1,500,000</text>
<text x="433.2" y="488.7" font-size="9.5" font-weight="bold" text-anchor="middle" fill="#1a1a1a" stroke="#1a1a1a" stroke-width="0.15" >HER2 receptor number</text>
<text x="290.5" y="449.9" font-size="9.75" font-weight="bold" fill="#1a1a1a" stroke="#1a1a1a" stroke-width="0.15" transform="rotate(-90 290.5 449.9)">Tucatinib IC<tspan font-size="6" dy="1.3" dx="0.3">50</tspan><tspan dy="-1.3"> (nmol/L)</tspan></text>
<line x1="331.6" y1="363.6" x2="492.7" y2="437.9" stroke="#c8303e" stroke-width="1.5" />
<circle cx="327.1" cy="350.1" r="2.5" fill="#2a3a88"/>
<circle cx="334.2" cy="350.1" r="2.5" fill="#2a3a88"/>
<circle cx="338.6" cy="355.7" r="2.5" fill="#2a3a88"/>
<circle cx="325" cy="354" r="2.5" fill="#2a3a88"/>
<circle cx="325.3" cy="357.5" r="2.5" fill="#2a3a88"/>
<circle cx="326.7" cy="360" r="2.5" fill="#2a3a88"/>
<circle cx="325" cy="361" r="2.5" fill="#2a3a88"/>
<circle cx="331.6" cy="363.8" r="2.5" fill="#2a3a88"/>
<circle cx="328.1" cy="368.3" r="2.5" fill="#2a3a88"/>
<circle cx="358.5" cy="400.2" r="2.5" fill="#2a3a88"/>
<circle cx="410.7" cy="395.4" r="2.5" fill="#2a3a88"/>
<circle cx="404.7" cy="416.9" r="2.5" fill="#2a3a88"/>
<circle cx="428.8" cy="401.5" r="2.5" fill="#2a3a88"/>
<circle cx="420.2" cy="424.6" r="2.5" fill="#2a3a88"/>
<circle cx="424.6" cy="431" r="2.5" fill="#2a3a88"/>
<circle cx="452.3" cy="424.6" r="2.5" fill="#2a3a88"/>
<circle cx="461.9" cy="406.9" r="2.5" fill="#2a3a88"/>
<circle cx="464.4" cy="419.8" r="2.5" fill="#2a3a88"/>
<circle cx="477.9" cy="426.5" r="2.5" fill="#2a3a88"/>
<circle cx="492.7" cy="428.5" r="2.5" fill="#2a3a88"/>
<text x="379.6" y="373.1" font-size="7.9" font-weight="normal" text-anchor="start" fill="#333" stroke="#333" stroke-width="0.22" >R square</text>
<line x1="416.7" y1="365.8" x2="416.7" y2="374.4" stroke="#333" stroke-width="1.2" />
<text x="421.9" y="373.1" font-size="8" font-weight="normal" text-anchor="start" fill="#333" stroke="#333" stroke-width="0.22" >0.8503</text>
</svg></body></html>
